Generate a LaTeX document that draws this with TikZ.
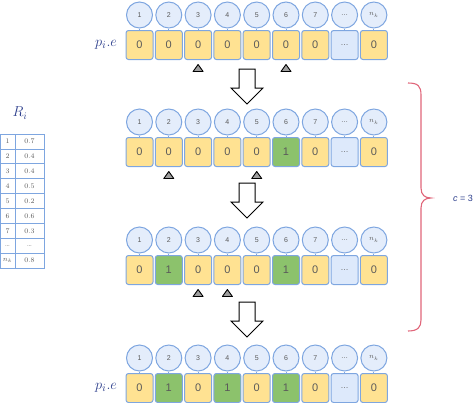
\documentclass[tikz,border=0pt]{standalone}
\usepackage{fontspec}
\setsansfont{Liberation Sans}
\usetikzlibrary{positioning}

\definecolor{boxline}{HTML}{7EA6E0}
\definecolor{cellyellow}{HTML}{FFE292}
\definecolor{cellgreen}{HTML}{8CC26C}
\definecolor{celldots}{HTML}{DDE9FB}
\definecolor{circfill}{HTML}{E4EDFB}
\definecolor{celltext}{HTML}{5A5A5A}
\definecolor{navy}{HTML}{2C3E8C}
\definecolor{bracered}{HTML}{E0667A}

\begin{document}
\begin{tikzpicture}[x = 1pt, y = -1pt,
	cellbox/.style = {draw = boxline, line width = 1pt, rounded corners = 2.5pt, minimum width = 27pt, minimum height = 29pt, inner sep = 0pt, text = celltext, font = \sffamily\fontsize{11}{11}\selectfont},
	gene/.style = {circle, draw = boxline, line width = 1pt, fill = circfill, minimum size = 26pt, inner sep = 0pt, text = celltext, font = \sffamily\fontsize{7}{7}\selectfont},
	link/.style = {draw = boxline, line width = 1pt},
	marker/.style = {draw = black, fill = gray!75, line width = 0.9pt, line join = round},
	bigarrow/.style = {draw = black, fill = white, line width = 1pt},
	tabcell/.style = {draw = boxline, line width = 0.8pt, minimum height = 14.9pt, inner sep = 0pt, text = celltext, font = \fontsize{7}{7}\selectfont},
	tag/.style = {text = navy, font = \fontsize{15}{15}\selectfont}
	]

	\useasboundingbox (0, 0) rectangle (474, 402);

	% Definitions

	\def\xfirst{139.5}		% x of the first gene column
	\def\pitch{29.3}		% distance between gene columns
	\def\rise{30}		% circle centre above box centre
	\def\xarrow{247}		% x of the big arrows
	

	% Chromosome rows
	
	% Each row: number, y of the boxes, and the columns set to 1 (0 = none)
	
	\foreach \r/\yb/\a/\b/\c in {1/45/0/0/0, 2/152/6/0/0, 3/270/2/6/0, 4/388/2/4/6}
	\foreach \i/\lab in {1/1, 2/2, 3/3, 4/4, 5/5, 6/6, 7/7, 8/\ldots, 9/$n_k$} {
		\gdef\cellfill{cellyellow}\gdef\celltxt{0}
		\ifnum\i=\a \gdef\cellfill{cellgreen}\gdef\celltxt{1}\fi
		\ifnum\i=\b \gdef\cellfill{cellgreen}\gdef\celltxt{1}\fi
		\ifnum\i=\c \gdef\cellfill{cellgreen}\gdef\celltxt{1}\fi
		\ifnum\i=8 \gdef\cellfill{celldots}\gdef\celltxt{\fontsize{8}{8}\selectfont\ldots}\fi
		\node [gene] (g-\r-\i) at ({\xfirst + (\i - 1) * \pitch}, \yb - \rise) {\lab};
		\node [cellbox, fill = \cellfill] (c-\r-\i) at ({\xfirst + (\i - 1) * \pitch}, \yb) {\celltxt};
		\draw [link] (g-\r-\i) -- (c-\r-\i);
	}
	
	\node [tag, left = 5pt of c-1-1] (pe-top) {$p_i.e$};
	\node [tag, left = 5pt of c-4-1] (pe-bot) {$p_i.e$};
	
	
	% Markers under the chosen genes, and arrows between rows
	
	\foreach \r/\p/\q in {1/3/6, 2/2/5, 3/3/4}
	\foreach \i in {\p, \q}
		\draw [marker] (c-\r-\i.south) ++(0, 4.5) -- ++(5, 7) -- ++(-10, 0) -- cycle;
	
	\foreach \yt in {69, 183, 302}
		\draw [bigarrow] (\xarrow - 8, \yt) -- ++(16, 0) -- ++(0, 19) -- ++(8, 0) -- (\xarrow, \yt + 35) -- ++(-16, -16) -- ++(8, 0) -- cycle;
	
	
	% Table of R_i
	
	\foreach \i/\k/\v in {1/1/0.7, 2/2/0.4, 3/3/0.4, 4/4/0.5, 5/5/0.2, 6/6/0.6, 7/7/0.3, 8/\ldots/\ldots, 9/$n_k$/0.8} {
		\node [tabcell, minimum width = 15pt] (k-\i) at (7.5, {134 + (\i - 0.5) * 14.9}) {\k};
		\node [tabcell, minimum width = 29pt] (v-\i) at (29.5, {134 + (\i - 0.5) * 14.9}) {\v};
	}
	
	\node [tag, font = \fontsize{14}{14}\selectfont] (ri) at (20, 113) {$R_i$};
	
	
	% Brace over the c = 3 steps
	
	\draw [bracered, line width = 1.1pt] (408, 83) .. controls (418, 83) and (421, 86) .. (421, 95) -- (421, 188) .. controls (421, 195) and (425, 198) .. (431, 198) .. controls (425, 198) and (421, 201) .. (421, 208) -- (421, 320) .. controls (421, 327) and (418, 331) .. (408, 331);
	\node [text = navy, anchor = east, inner sep = 1pt, font = \sffamily\fontsize{9}{9}\selectfont] (cval) at (474, 198) {\textit{c} = 3};

\end{tikzpicture}
\end{document}
